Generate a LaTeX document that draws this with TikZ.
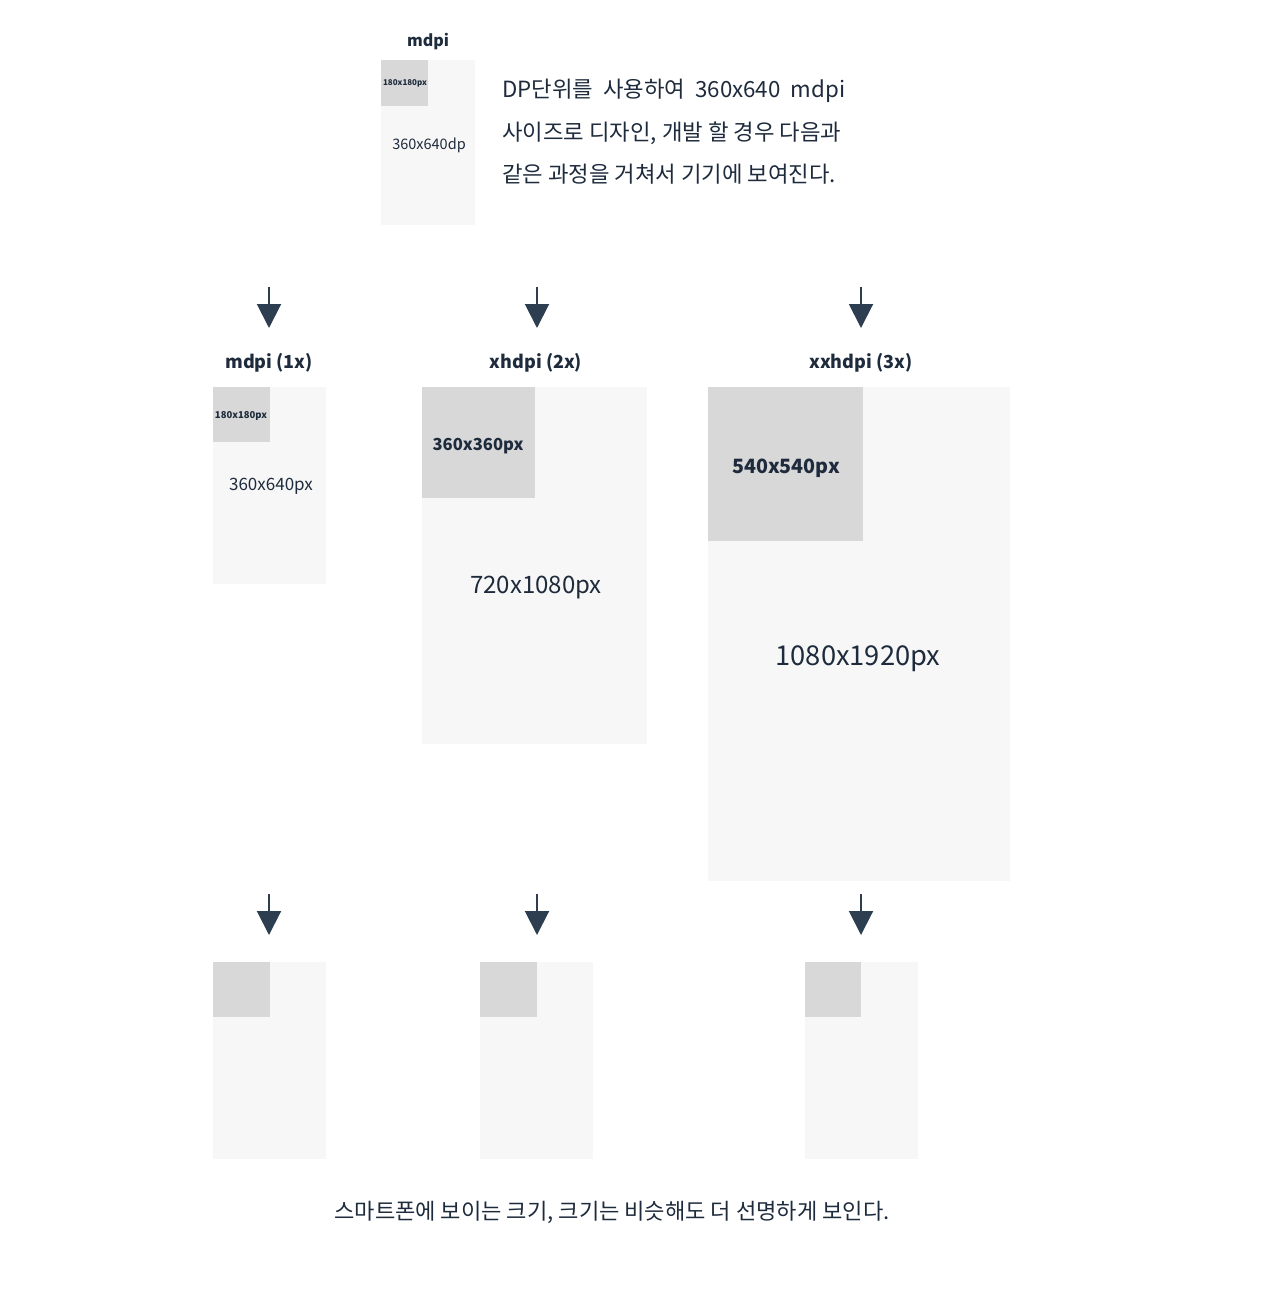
\documentclass[tikz,border=0pt]{standalone}
\usepackage{fontspec}
\setmainfont{Noto Sans CJK KR}
\usetikzlibrary{arrows.meta}
\definecolor{txt}{HTML}{1E2B3C}
\definecolor{arr}{HTML}{2C3E50}
\definecolor{screen}{HTML}{F7F7F7}
\definecolor{icon}{HTML}{D8D8D8}
\tikzset{
  screenbox/.style={fill=screen,draw=none},
  iconbox/.style={fill=icon,draw=none},
  lbl/.style={text=txt,inner sep=0pt,anchor=center},
  down/.style={draw=arr,line width=2pt,-{Triangle[width=24pt,length=24pt]}},
}
\newcommand{\fs}[1]{\fontsize{#1pt}{#1pt}\selectfont}
\begin{document}
\begin{tikzpicture}[x=1pt,y=-1pt]
\useasboundingbox (0,0) rectangle (1280,1291);
% top
\node[lbl,font=\fs{16}\bfseries] (tl) at (428,42) {mdpi};
\fill[screenbox] (381,60) rectangle (475,225);
\fill[iconbox] (381,60) rectangle (428,106);
\node[lbl,font=\fs{8}\bfseries] (ti) at (405,83) {180x180px};
\node[lbl,font=\fs{14.5}] (td) at (429,145) {360x640dp};
\node[lbl,anchor=west,font=\fs{22.3}] (p1) at (502,91) {\hbox to 343pt{DP단위를\hfil 사용하여\hfil 360x640\hfil mdpi}};
\node[lbl,anchor=west,font=\fs{22.3}] (p2) at (502,133) {사이즈로 디자인, 개발 할 경우 다음과};
\node[lbl,anchor=west,font=\fs{22.3}] (p3) at (502,174) {같은 과정을 거쳐서 기기에 보여진다.};
% arrows row 1
\coordinate (a1s) at (269,287); \coordinate (a1e) at (269,328);
\coordinate (a2s) at (537,287); \coordinate (a2e) at (537,328);
\coordinate (a3s) at (861,287); \coordinate (a3e) at (861,328);
\draw[down] (a1s) -- (a1e);
\draw[down] (a2s) -- (a2e);
\draw[down] (a3s) -- (a3e);
% labels
\node[lbl,font=\fs{18}\bfseries] (l1) at (269,363) {mdpi (1x)};
\node[lbl,font=\fs{18}\bfseries] (l2) at (536,363) {xhdpi (2x)};
\node[lbl,font=\fs{18}\bfseries] (l3) at (861,363) {xxhdpi (3x)};
% screen 1
\fill[screenbox] (213,387) rectangle (326,584);
\fill[iconbox] (213,387) rectangle (270,442);
\node[lbl,font=\fs{9.5}\bfseries] (s1i) at (241,416) {180x180px};
\node[lbl,font=\fs{17}] (s1t) at (271,486) {360x640px};
% screen 2
\fill[screenbox] (422,387) rectangle (647,744);
\fill[iconbox] (422,387) rectangle (535,498);
\node[lbl,font=\fs{16.6}\bfseries] (s2i) at (478,446) {360x360px};
\node[lbl,font=\fs{24}] (s2t) at (536,588) {720x1080px};
% screen 3
\fill[screenbox] (708,387) rectangle (1010,881);
\fill[iconbox] (708,387) rectangle (863,541);
\node[lbl,font=\fs{19.7}\bfseries] (s3i) at (786,468) {540x540px};
\node[lbl,font=\fs{27.3}] (s3t) at (858,659) {1080x1920px};
% arrows row 2
\coordinate (b1s) at (269,894); \coordinate (b1e) at (269,935);
\coordinate (b2s) at (537,894); \coordinate (b2e) at (537,935);
\coordinate (b3s) at (861,894); \coordinate (b3e) at (861,935);
\draw[down] (b1s) -- (b1e);
\draw[down] (b2s) -- (b2e);
\draw[down] (b3s) -- (b3e);
% phones
\fill[screenbox] (213,962) rectangle (326,1159);
\fill[iconbox] (213,962) rectangle (270,1017);
\fill[screenbox] (480,962) rectangle (593,1159);
\fill[iconbox] (480,962) rectangle (537,1017);
\fill[screenbox] (805,962) rectangle (918,1159);
\fill[iconbox] (805,962) rectangle (861,1017);
\node[lbl,font=\fs{22.1}] (bt) at (612,1212) {스마트폰에 보이는 크기, 크기는 비슷해도 더 선명하게 보인다.};
\end{tikzpicture}
\end{document}
